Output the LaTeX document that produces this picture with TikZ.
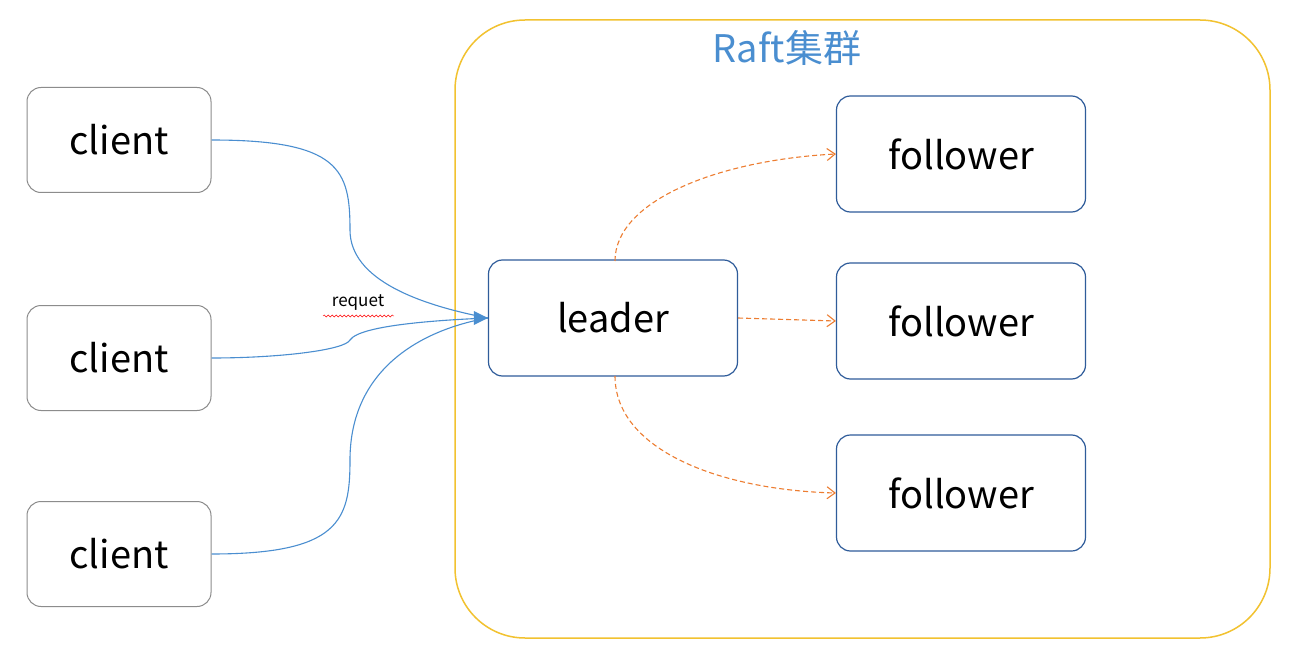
\documentclass[tikz,border=0pt]{standalone}
\usepackage{fontspec}
\setmainfont{Noto Sans CJK SC}
\usetikzlibrary{arrows.meta,decorations.pathmorphing}
\definecolor{bl}{HTML}{2F5C9A}
\definecolor{ln}{HTML}{4A8ED0}
\definecolor{og}{HTML}{ED7D31}
\definecolor{yl}{HTML}{F2C230}
\begin{document}
\begin{tikzpicture}[x=1pt,y=-1pt,
 cl/.style={draw=gray!90,rounded corners=14pt,minimum width=184pt,minimum height=105pt,font=\fontsize{38}{42}\selectfont,line width=1pt},
 fo/.style={draw=bl,rounded corners=14pt,minimum width=249pt,minimum height=116pt,font=\fontsize{38}{42}\selectfont,line width=1.2pt},
 bc/.style={draw=ln,line width=1.1pt},
 oc/.style={draw=og,dash pattern=on 5pt off 3pt,line width=1.1pt,-{Straight Barb[length=8pt,width=12pt]}}]
\useasboundingbox (0,0) rectangle (1294,658);
\fill[white] (0,0) rectangle (1294,658);
\draw[yl,line width=1.5pt,rounded corners=70pt] (455,20) rectangle (1270,638);
\node[text=ln,font=\fontsize{38}{42}\selectfont] (t) at (787,48) {Raft集群};
\node[cl] (c1) at (119,140) {client};
\node[cl] (c2) at (119,358) {client};
\node[cl] (c3) at (119,554) {client};
\node[fo] (l) at (613,318) {leader};
\node[fo] (f1) at (961,154) {follower};
\node[fo] (f2) at (961,321) {follower};
\node[fo] (f3) at (961,493) {follower};
\coordinate (m) at (350,340);
\draw[bc] (c1.east) .. controls (340,140) and (350,170) .. (350,230) .. controls (350,280) and (420,305) .. (l.west);
\draw[bc] (c2.east) .. controls (280,358) and (345,350) .. (m) .. controls (360,325) and (440,320) .. (l.west);
\draw[bc] (c3.east) .. controls (340,554) and (350,520) .. (350,460) .. controls (350,370) and (420,330) .. (l.west);
\fill[ln] (l.west) -- ++(-14,-7) -- ++(0,14) -- cycle;
\node[font=\fontsize{17}{19}\selectfont] (r) at (358,303) {requet};
\draw[red,decorate,decoration={snake,amplitude=1pt,segment length=4pt}] (323,316) -- (394,316);
\draw[oc] (615,261) .. controls (615,200) and (720,160) .. (f1.west);
\draw[oc] (l.east) -- (f2.west);
\draw[oc] (615,376) .. controls (615,450) and (720,490) .. (f3.west);
\end{tikzpicture}
\end{document}
